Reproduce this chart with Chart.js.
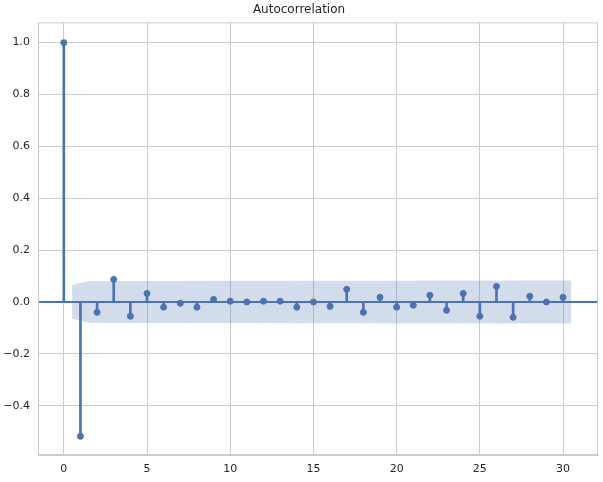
<!DOCTYPE html>
<html>
<head>
<meta charset="utf-8">
<script src="https://cdn.jsdelivr.net/npm/chart.js@4"></script>
<style>
  html, body { margin: 0; padding: 0; background: #fff; }
  #wrap { width: 603px; height: 482px; }
</style>
</head>
<body>
<div id="wrap"><canvas id="acf"></canvas></div>
<script>
// ACF 값 (lag 0..30)
const lags = [...Array(31).keys()];
const acfValues = [1.0, -0.518, -0.040, 0.087, -0.055, 0.033, -0.020, -0.005, -0.020, 0.010,
    0.003, 0.000, 0.003, 0.003, -0.020, 0.000, -0.017, 0.049, -0.040, 0.018,
    -0.020, -0.013, 0.026, -0.032, 0.033, -0.055, 0.060, -0.059, 0.022, 0.000, 0.018];
// 신뢰구간 (lag - 0.5 위치)
const bandX = [0.5, 1.5, 2.5, 30.5];
const bandUpper = [0.065, 0.080, 0.081, 0.083];
const bandLower = bandUpper.map(v => -v);
const xTicks = [0, 5, 10, 15, 20, 25, 30];
const yTicks = [-0.4, -0.2, 0.0, 0.2, 0.4, 0.6, 0.8, 1.0];

const BLUE = "#4c72b0";
const X_MIN = -1.55, X_MAX = 32.1;

// 축 박스 테두리
const frame = {
    id: "frame",
    afterDraw(chart) {
        const { ctx, chartArea: a } = chart;
        ctx.save();
        ctx.strokeStyle = "#cccccc";
        ctx.lineWidth = 1;
        ctx.strokeRect(a.left + 0.5, a.top + 0.5, a.right - a.left - 1, a.bottom - a.top - 1);
        ctx.restore();
    },
};

new Chart(document.getElementById("acf"), {
    data: {
        datasets: [
            {
                type: "line",
                data: bandX.map((x, i) => ({ x, y: bandUpper[i] })),
                borderWidth: 0, pointRadius: 0,
                backgroundColor: "rgba(76,114,176,0.25)",
                fill: "+1", order: 5,
            },
            {
                type: "line",
                data: bandX.map((x, i) => ({ x, y: bandLower[i] })),
                borderWidth: 0, pointRadius: 0, fill: false, order: 5,
            },
            {
                type: "line",
                data: [{ x: X_MIN, y: 0 }, { x: X_MAX, y: 0 }],
                borderColor: BLUE, borderWidth: 2, pointRadius: 0, order: 3,
            },
            {
                type: "bar",
                data: lags.map((l, i) => ({ x: l, y: [0, acfValues[i]] })),
                backgroundColor: BLUE, barThickness: 2, order: 2,
            },
            {
                type: "scatter",
                data: lags.map((l, i) => ({ x: l, y: acfValues[i] })),
                backgroundColor: BLUE, borderColor: BLUE, pointRadius: 3, order: 1,
            },
        ],
    },
    options: {
        responsive: true,
        maintainAspectRatio: false,
        animation: false,
        layout: { padding: { top: 0, right: 5, bottom: 0, left: 0 } },
        plugins: {
            legend: { display: false },
            tooltip: { enabled: false },
            title: {
                display: true, text: "Autocorrelation", color: "#262626",
                font: { family: "DejaVu Sans", size: 12, weight: "normal" },
                padding: { top: 3, bottom: 5 },
            },
        },
        scales: {
            x: {
                type: "linear", min: X_MIN, max: X_MAX, offset: false,
                afterBuildTicks: s => { s.ticks = xTicks.map(v => ({ value: v })); },
                ticks: { color: "#262626", font: { family: "DejaVu Sans", size: 11 }, padding: 8 },
                grid: { color: "#cccccc", drawTicks: false, offset: false },
                border: { color: "#cccccc" },
                afterFit: s => { s.height = 27; },
            },
            y: {
                min: -0.59, max: 1.078,
                afterBuildTicks: s => { s.ticks = yTicks.map(v => ({ value: v })); },
                ticks: {
                    color: "#262626", font: { family: "DejaVu Sans", size: 11 }, padding: 8,
                    callback: v => v.toFixed(1).replace("-", "\u2212"),
                },
                grid: { color: "#cccccc", drawTicks: false },
                border: { color: "#cccccc" },
                afterFit: s => { s.width = 38; },
            },
        },
    },
    plugins: [frame],
});
</script>
</body>
</html>
